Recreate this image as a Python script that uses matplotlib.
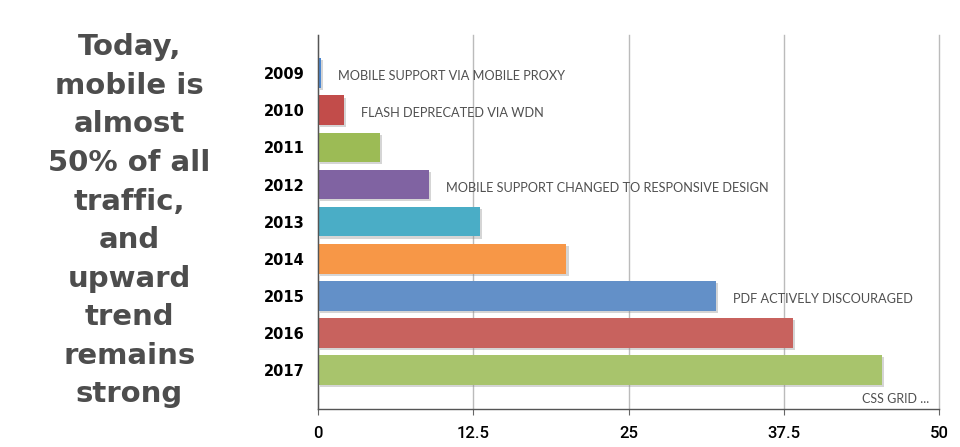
"""
Mobile traffic share by year, horizontal bars with milestone notes.
"""

import matplotlib
matplotlib.use("Agg")
import matplotlib.pyplot as plt
import matplotlib.patheffects as pe

YEARS = ["2009", "2010", "2011", "2012", "2013", "2014", "2015", "2016", "2017"]
SHARE = [0.25, 2.1, 5.0, 8.9, 13.0, 20.0, 32.0, 38.2, 45.4]

BAR_COLORS = [
    "#4a86d0",  # 2009 blue
    "#c24c4a",  # 2010 red
    "#9cbb55",  # 2011 green
    "#8063a2",  # 2012 purple
    "#4aadc6",  # 2013 teal
    "#f79747",  # 2014 orange
    "#6390c8",  # 2015 blue
    "#c8625e",  # 2016 red
    "#a8c46c",  # 2017 green
]

# milestone notes next to particular bars
NOTES = {
    "2009": "MOBILE SUPPORT VIA MOBILE PROXY",
    "2010": "FLASH DEPRECATED VIA WDN",
    "2012": "MOBILE SUPPORT CHANGED TO RESPONSIVE DESIGN",
    "2015": "PDF ACTIVELY DISCOURAGED",
}
TAIL_NOTE = "CSS GRID ..."

X_TICKS = [0, 12.5, 25, 37.5, 50]
X_TICK_LABELS = ["0", "12.5", "25", "37.5", "50"]

HEADLINE = ("Today,\nmobile is\nalmost\n50% of all\ntraffic,\nand\nupward\n"
            "trend\nremains\nstrong")

TEXT_GRAY = "#4d4d4d"
NOTE_GRAY = "#505050"

fig = plt.figure(figsize=(9.6, 4.47), dpi=100)
ax = fig.add_axes([0.3313, 0.085, 0.6469, 0.8368])

y = list(range(len(YEARS)))
shadow = [pe.SimplePatchShadow(offset=(1.5, -1.5), shadow_rgbFace="#888888", alpha=0.35),
          pe.Normal()]
bars = ax.barh(y, SHARE, height=0.8, color=BAR_COLORS, zorder=3)
for b in bars:
    b.set_path_effects(shadow)

for i, year in enumerate(YEARS):
    if year in NOTES:
        ax.annotate(NOTES[year], xy=(SHARE[i], i), xytext=(17, -3),
                    textcoords="offset pixels", ha="left", va="center",
                    fontsize=9.2, color=NOTE_GRAY, family="Lato", zorder=4)

ax.text(49.2, 8.78, TAIL_NOTE, ha="right", va="center", fontsize=9,
        color=NOTE_GRAY, family="Lato")

ax.set_xlim(0, 50)
ax.set_ylim(len(YEARS) - 1 + 1.05, -1.03)
ax.set_xticks(X_TICKS)
ax.set_xticklabels(X_TICK_LABELS, fontsize=12, family="Roboto", fontweight="medium")
ax.set_yticks(y)
ax.set_yticklabels(YEARS, fontsize=10.5, fontweight="bold", family="DejaVu Sans")
ax.tick_params(axis="y", length=0, pad=9.5)
ax.tick_params(axis="x", length=4, width=0.8, color="#666666", pad=8)

ax.grid(axis="x", color="#bbbbbb", linewidth=1.0, zorder=0)
for gl in ax.get_xgridlines():
    gl.set_clip_on(False)
for side in ("top", "right"):
    ax.spines[side].set_visible(False)
for side in ("left", "bottom"):
    ax.spines[side].set_color("#555555")
    ax.spines[side].set_linewidth(1.0)
    ax.spines[side].set_zorder(5)

fig.text(0.135, 0.506, HEADLINE, ha="center", va="center", fontsize=21,
         fontweight="bold", color=TEXT_GRAY, linespacing=1.48,
         family="DejaVu Sans")

fig.savefig("out.png", dpi=100)
